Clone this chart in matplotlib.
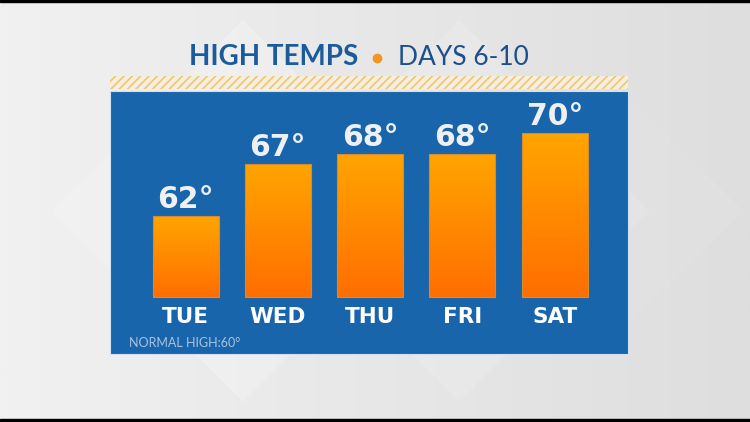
import numpy as np
import matplotlib
matplotlib.use("Agg")
import matplotlib.pyplot as plt
from matplotlib.patches import Polygon, Rectangle
from matplotlib.colors import LinearSegmentedColormap

days = ["TUE", "WED", "THU", "FRI", "SAT"]
highs = [62, 67, 68, 68, 70]
normal_high = 60
title_left = "HIGH TEMPS"
title_right = "DAYS 6-10"

BASE = 54.2  # bars start here on the temperature scale

plt.rcParams['font.family'] = ['Lato', 'DejaVu Sans']
plt.rcParams['hatch.linewidth'] = 1.2

W, H = 750, 422
fig = plt.figure(figsize=(7.5, 4.22), dpi=100)

# background, drawn in pixel coordinates
bg = fig.add_axes([0, 0, 1, 1])
bg_cmap = LinearSegmentedColormap.from_list('bg', ['#f1f1f1', '#dedede'])
bg.imshow(np.linspace(0, 1, 256)[None, :], extent=(0, W, H, 0),
          cmap=bg_cmap, aspect='auto', zorder=0)
for cx, r, col in [(243, 191, '#f4f4f4'), (459, 191, '#ededed'), (552, 191, '#e3e3e3')]:
    bg.add_patch(Polygon([(cx - r, 211), (cx, 211 - r), (cx + r, 211), (cx, 211 + r)],
                         closed=True, facecolor=col, edgecolor='none', alpha=0.45, zorder=1))
# gold hatched stripe under the title
bg.add_patch(Rectangle((110, 76), 518, 13, facecolor='#f6eedf', edgecolor='#efc675',
                       hatch='////', linewidth=0, zorder=2))
bg.add_patch(Rectangle((0, 0), W, 1.5, color='black', zorder=3))
bg.add_patch(Rectangle((0, 419), W, 3, color='black', zorder=3))
bg.plot(377, 58, 'o', ms=6, color='#f7941d', zorder=3)
bg.set_xlim(0, W)
bg.set_ylim(H, 0)
bg.axis('off')

fig.text(358 / W, 1 - 65 / H, title_left, ha='right', va='baseline',
         fontsize=20, weight='bold', color='#1b5b9c')
fig.text(398 / W, 1 - 65 / H, title_right, ha='left', va='baseline',
         fontsize=19, color='#1c4f8c')

# blue panel with the bars
ax = fig.add_axes([110 / W, 1 - 354 / H, 518 / W, 263 / H])
ax.set_facecolor('#1865ac')
x = np.arange(len(days))
bars = ax.bar(x, np.array(highs) - BASE, bottom=BASE, width=0.715, color='none',
              edgecolor='#d98a2c', linewidth=0.8, zorder=3)

bar_cmap = LinearSegmentedColormap.from_list('bar', ['#ff6e00', '#ffa500'])
vgrad = np.linspace(0, 1, 100)[:, None]
for b in bars:
    x0, y0 = b.get_x(), b.get_y()
    im = ax.imshow(vgrad, extent=(x0, x0 + b.get_width(), y0, y0 + b.get_height()),
                   origin='lower', cmap=bar_cmap, aspect='auto', zorder=2)
    im.set_clip_path(b)

for i, (d, v) in enumerate(zip(days, highs)):
    ax.annotate(f"{v}°", (i, v), xytext=(0, 5.8), textcoords='offset points',
                ha='center', va='baseline', fontsize=21.5, weight='bold',
                family='DejaVu Sans', color='#eef0f3')
    ax.annotate(d, (i, BASE), xytext=(0, -18.7), textcoords='offset points',
                ha='center', va='baseline', fontsize=15.5, weight='bold',
                family='DejaVu Sans', color='white')

ax.set_xlim(-0.818, 4.794)
ax.set_ylim(48.7, 74.05)
ax.set_xticks([])
ax.set_yticks([])
for s in ax.spines.values():
    s.set_color('#cfe1f2')
    s.set_linewidth(0.8)

fig.text(129 / W, 1 - 343 / H, f"NORMAL HIGH:{normal_high}°", ha='left', va='center',
         fontsize=9, color='#a9c3de')

fig.savefig('out.png', dpi=100)
